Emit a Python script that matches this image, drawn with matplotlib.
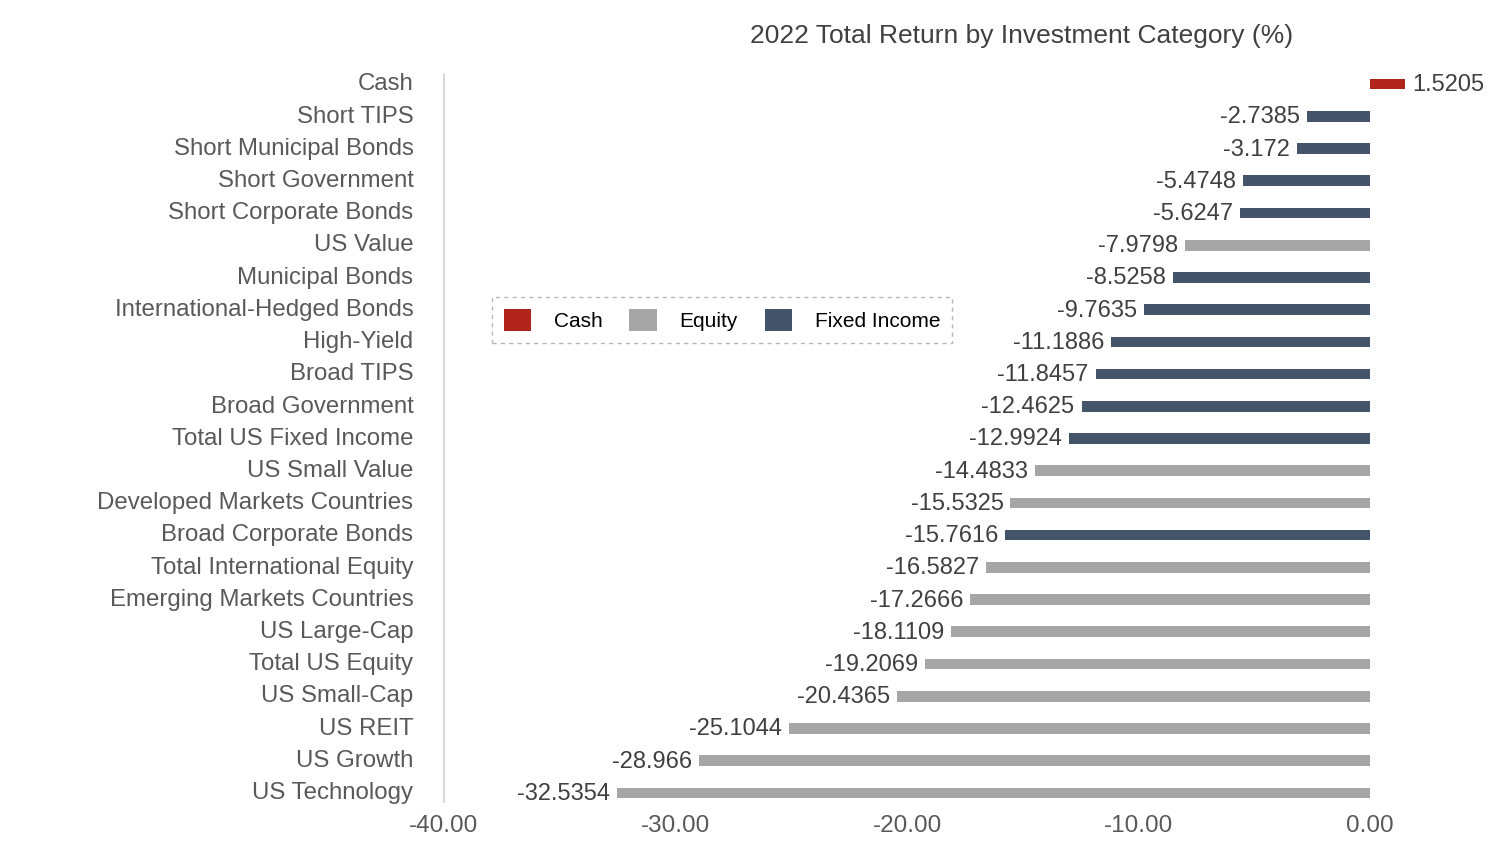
import matplotlib
matplotlib.use("Agg")
import matplotlib.pyplot as plt
from matplotlib.patches import Patch

plt.rcParams['font.family'] = ['Liberation Sans', 'DejaVu Sans']

categories = ["Cash", "Short TIPS", "Short Municipal Bonds", "Short Government",
              "Short Corporate Bonds", "US Value", "Municipal Bonds",
              "International-Hedged Bonds", "High-Yield", "Broad TIPS",
              "Broad Government", "Total US Fixed Income", "US Small Value",
              "Developed Markets Countries", "Broad Corporate Bonds",
              "Total International Equity", "Emerging Markets Countries",
              "US Large-Cap", "Total US Equity", "US Small-Cap", "US REIT",
              "US Growth", "US Technology"]
values = [1.5205, -2.7385, -3.172, -5.4748, -5.6247, -7.9798, -8.5258, -9.7635,
          -11.1886, -11.8457, -12.4625, -12.9924, -14.4833, -15.5325, -15.7616,
          -16.5827, -17.2666, -18.1109, -19.2069, -20.4365, -25.1044, -28.966,
          -32.5354]
groups = ["Cash", "Fixed Income", "Fixed Income", "Fixed Income", "Fixed Income",
          "Equity", "Fixed Income", "Fixed Income", "Fixed Income", "Fixed Income",
          "Fixed Income", "Fixed Income", "Equity", "Equity", "Fixed Income",
          "Equity", "Equity", "Equity", "Equity", "Equity", "Equity", "Equity",
          "Equity"]
xticks = [-40, -30, -20, -10, 0]

colors = {"Cash": "#B0241B", "Equity": "#A6A6A6", "Fixed Income": "#44546A"}

fig = plt.figure(figsize=(15, 8.57), dpi=100)
ax = fig.add_axes([444/1500, 1-809/857, (1439.5-444)/1500, (809-68)/857])

n = len(categories)
ypos = list(range(n))[::-1]
ax.barh(ypos, values, height=0.33, color=[colors[g] for g in groups])

for y, v in zip(ypos, values):
    if v >= 0:
        ax.text(v + 0.3, y - 0.04, f"{v:g}", va='center', ha='left', fontsize=17, color='#404040')
    else:
        ax.text(v - 0.3, y - 0.03, f"{v:g}", va='center', ha='right', fontsize=17, color='#404040')

ax.set_xlim(-40, 3)
ax.set_ylim(-0.5, n - 0.5)
ax.set_yticks([p + 0.07 for p in ypos])
ax.set_yticklabels(categories, fontsize=17.3, color='#595959')
ax.set_xticks(xticks)
ax.set_xticklabels([f"{t:.2f}" for t in xticks], fontsize=17.5, color='#595959')
ax.tick_params(axis='both', length=0)
ax.tick_params(axis='y', pad=22)
ax.tick_params(axis='x', pad=4)
for s in ['top', 'right', 'bottom']:
    ax.spines[s].set_visible(False)
ax.spines['left'].set_color('#D9D9D9')
ax.spines['left'].set_linewidth(1.5)
ax.spines['left'].set_bounds(-0.28, n - 0.72)

fig.text(1022/1500, 1-36/857, "2022 Total Return by Investment Category (%)",
         ha='center', va='center', fontsize=19, color='#404040')

handles = [Patch(facecolor=colors[k], edgecolor='none') for k in ["Cash", "Equity", "Fixed Income"]]
leg = fig.legend(handles, ["Cash", "Equity", "Fixed Income"], ncol=3,
                 loc='center', bbox_to_anchor=(722/1500, 1-320/857),
                 fontsize=15, frameon=True, fancybox=False,
                 handlelength=1.3, handleheight=1.3, columnspacing=1.3,
                 handletextpad=1.1, borderpad=0.55)
fr = leg.get_frame()
fr.set_edgecolor('#A6A6A6')
fr.set_linestyle((0, (3, 3)))
fr.set_linewidth(1.0)

fig.savefig("out.png", dpi=100)
